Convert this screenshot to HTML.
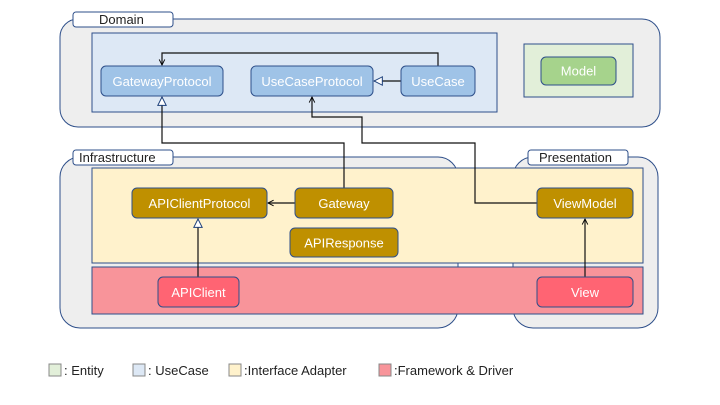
<!DOCTYPE html><html><head><style>body{margin:0;background:#fff}svg{display:block}text{font-family:"Liberation Sans","Noto Sans CJK JP",sans-serif}</style></head><body>
<svg width="720" height="405" viewBox="0 0 720 405">
<defs>
<marker id="tri" viewBox="0 0 12 12" refX="11" refY="6" markerWidth="10" markerHeight="10" orient="auto" markerUnits="userSpaceOnUse"><path d="M1,1 L11,6 L1,11 Z" fill="#fff" stroke="#1c3f7a" stroke-width="1.2"/></marker>
<marker id="op" viewBox="0 0 10 10" refX="9" refY="5" markerWidth="7" markerHeight="7" orient="auto" markerUnits="userSpaceOnUse"><path d="M1,1 L9,5 L1,9" fill="none" stroke="#000" stroke-width="1.3"/></marker>
</defs>
<rect x="60" y="19" width="600" height="108" rx="18" fill="#eeeeee" stroke="#2e4f8a"/>
<rect x="73" y="12" width="100" height="15" rx="3" fill="#fff" stroke="#2e4f8a"/>
<text x="99" y="24" font-size="13" fill="#222">Domain</text>
<rect x="92" y="33" width="405" height="79" fill="#dde8f5" stroke="#2e4f8a"/>
<rect x="524" y="44" width="109" height="53" fill="#e2efd9" stroke="#2e4f8a"/>
<rect x="541" y="57" width="75" height="28" rx="5" fill="#a6d38c" stroke="#2e4f8a"/>
<text x="578.5" y="75.5" font-size="13" fill="#fff" text-anchor="middle">Model</text>
<rect x="60" y="157" width="398" height="171" rx="20" fill="#eeeeee" stroke="#2e4f8a"/>
<rect x="73" y="150" width="100" height="15" rx="3" fill="#fff" stroke="#2e4f8a"/>
<text x="79" y="162" font-size="13" fill="#222">Infrastructure</text>
<rect x="513" y="157" width="145" height="171" rx="20" fill="#eeeeee" stroke="#2e4f8a"/>
<rect x="528" y="150" width="100" height="15" rx="3" fill="#fff" stroke="#2e4f8a"/>
<text x="539" y="162" font-size="13" fill="#222">Presentation</text>
<rect x="92" y="168" width="551" height="95" fill="#fff2cc" stroke="#2e4f8a"/>
<rect x="92" y="267" width="551" height="47" fill="#f8949a" stroke="#2e4f8a"/>
<g fill="none" stroke="#111" stroke-width="1.2">
<path d="M438,66 V53 H162 V65" marker-end="url(#op)"/>
<path d="M401,81 H374" marker-end="url(#tri)"/>
<path d="M344,188 V143 H162 V97" marker-end="url(#tri)"/>
<path d="M537,203 H475 V143 H362 V117 H312 V97" marker-end="url(#op)"/>
<path d="M295,203 H268" marker-end="url(#op)"/>
<path d="M198,277 V219" marker-end="url(#tri)"/>
<path d="M585,277 V219" marker-end="url(#op)"/>
</g>
<g font-size="13" fill="#fff" text-anchor="middle">
<rect x="101" y="66" width="122" height="30" rx="5" fill="#9fc3e7" stroke="#2e4f8a"/><text x="162" y="86">GatewayProtocol</text>
<rect x="251" y="66" width="122" height="30" rx="5" fill="#9fc3e7" stroke="#2e4f8a"/><text x="312" y="86">UseCaseProtocol</text>
<rect x="401" y="66" width="74" height="30" rx="5" fill="#9fc3e7" stroke="#2e4f8a"/><text x="438" y="86">UseCase</text>
<rect x="132" y="188" width="135" height="30" rx="5" fill="#bf9000" stroke="#2e4f8a"/><text x="199.5" y="208">APIClientProtocol</text>
<rect x="295" y="188" width="98" height="30" rx="5" fill="#bf9000" stroke="#2e4f8a"/><text x="344" y="208">Gateway</text>
<rect x="290" y="228" width="108" height="29" rx="5" fill="#bf9000" stroke="#2e4f8a"/><text x="344" y="247.5">APIResponse</text>
<rect x="537" y="188" width="96" height="30" rx="5" fill="#bf9000" stroke="#2e4f8a"/><text x="585" y="208">ViewModel</text>
<rect x="158" y="277" width="81" height="30" rx="5" fill="#ff6473" stroke="#2e4f8a"/><text x="198.5" y="297">APIClient</text>
<rect x="537" y="277" width="96" height="30" rx="5" fill="#ff6473" stroke="#2e4f8a"/><text x="585" y="297">View</text>
</g>
<g font-size="13" fill="#222">
<rect x="49" y="364" width="12" height="12" fill="#e2efd9" stroke="#888"/><text x="64" y="375">: Entity</text>
<rect x="133" y="364" width="12" height="12" fill="#dde8f5" stroke="#888"/><text x="148" y="375">: UseCase</text>
<rect x="229" y="364" width="12" height="12" fill="#fff2cc" stroke="#888"/><text x="244" y="375">:Interface Adapter</text>
<rect x="379" y="364" width="12" height="12" fill="#f8949a" stroke="#888"/><text x="394" y="375">:Framework &amp; Driver</text>
</g>
</svg></body></html>
